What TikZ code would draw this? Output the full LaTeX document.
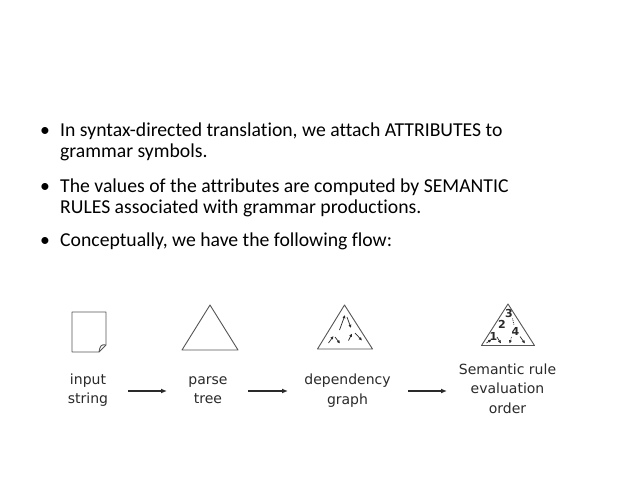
\documentclass[tikz,border=0pt]{standalone}
\usepackage{fontspec}
\setmainfont{Carlito}[Ligatures=NoCommon]
\newfontfamily\diagfont{DejaVu Sans}
\usetikzlibrary{arrows.meta}
\definecolor{linegray}{HTML}{555555}
\definecolor{txtgray}{HTML}{2A2A2A}
\tikzset{
  bullettext/.style={anchor=base west, align=left, inner sep=0pt, font=\fontsize{19.7}{21.3}\selectfont, text=black},
  bulletmark/.style={anchor=base, inner sep=0pt, font=\fontsize{19.7}{21.3}\selectfont},
  lbl/.style={align=center, inner sep=0pt, font=\diagfont\fontsize{14}{19.5}\selectfont, text=txtgray},
  flow/.style={line width=1.4pt, draw=txtgray, -{Latex[length=6pt,width=5pt]}},
  outline/.style={draw=linegray, line width=0.9pt},
  dep/.style={line width=0.7pt, draw=txtgray, -{Latex[length=3.2pt,width=3.2pt]}},
  num/.style={inner sep=0pt, font=\diagfont\bfseries\fontsize{11}{11}\selectfont, text=txtgray}
}
\begin{document}
\begin{tikzpicture}[x=1pt,y=-1pt]
\useasboundingbox (0,0) rectangle (638,479);
\fill[white] (0,0) rectangle (638,479);
% bullets
\node[bulletmark] (b1) at (45,136) {•};
\node[bullettext] (t1) at (60,157.3) {In syntax-directed translation, we attach ATTRIBUTES to\\grammar symbols.};
\node[bulletmark] (b2) at (45,192) {•};
\node[bullettext] (t2) at (60,213.3) {The values of the attributes are computed by SEMANTIC\\RULES associated with grammar productions.};
\node[bulletmark] (b3) at (45,246) {•};
\node[bullettext] (t3) at (60,246) {Conceptually, we have the following flow:};
% input document icon
\draw[outline, line join=round] (72,312) -- (106,312) -- (106,345) -- (99,352) -- (72,352) -- cycle;
\draw[outline] (106,345) .. controls (101,344) and (100,346) .. (99,352);
% parse tree triangle
\draw[outline, line join=round] (210,305) -- (238,350) -- (182,350) -- cycle;
% dependency graph triangle
\draw[outline, line join=round] (344.5,305) -- (372.5,349) -- (317.5,349) -- cycle;
\draw[dep] (339.5,330) -- (345,315);
\draw[dep] (347,317) -- (351,328);
\draw[dep] (328.5,343) -- (333.5,336);
\draw[dep] (335,337) -- (340,343.5);
\draw[dep] (348.5,340.5) -- (352,333.5);
\draw[dep] (355,333) -- (362,340.5);
% semantic rule triangle
\draw[outline, line join=round] (508,304) -- (534.5,345.5) -- (481.5,345.5) -- cycle;
\node[num] (n3) at (509,313) {3};
\node[num] (n2) at (502,324) {2};
\node[num] (n4) at (515.5,331) {4};
\node[num] (n1) at (493.5,336.5) {1};
\draw[dep] (486.5,343) -- (491.5,339.5);
\draw[dep] (497,337) -- (501,343.5);
\draw[dep, densely dotted] (511.5,337) -- (509.5,343.5);
\draw[dep] (520,336.5) -- (525,343.5);
\draw[line width=0.8pt, draw=txtgray, densely dotted] (512.5,318.5) -- (514,325);
% labels
\node[lbl] (l1) at (88,390) {input\\string};
\node[lbl] (l2) at (208,390) {parse\\tree};
\node[lbl] (l3) at (347.5,390.5) {dependency\\graph};
\node[lbl] (l4) at (507.5,388.5) {Semantic rule\\evaluation\\order};
% flow arrows
\coordinate (a1s) at (128,391);
\coordinate (a1e) at (167,391);
\coordinate (a2s) at (248,391);
\coordinate (a2e) at (288,391);
\coordinate (a3s) at (408,391);
\coordinate (a3e) at (447,391);
\draw[flow] (a1s) -- (a1e);
\draw[flow] (a2s) -- (a2e);
\draw[flow] (a3s) -- (a3e);
\end{tikzpicture}
\end{document}
